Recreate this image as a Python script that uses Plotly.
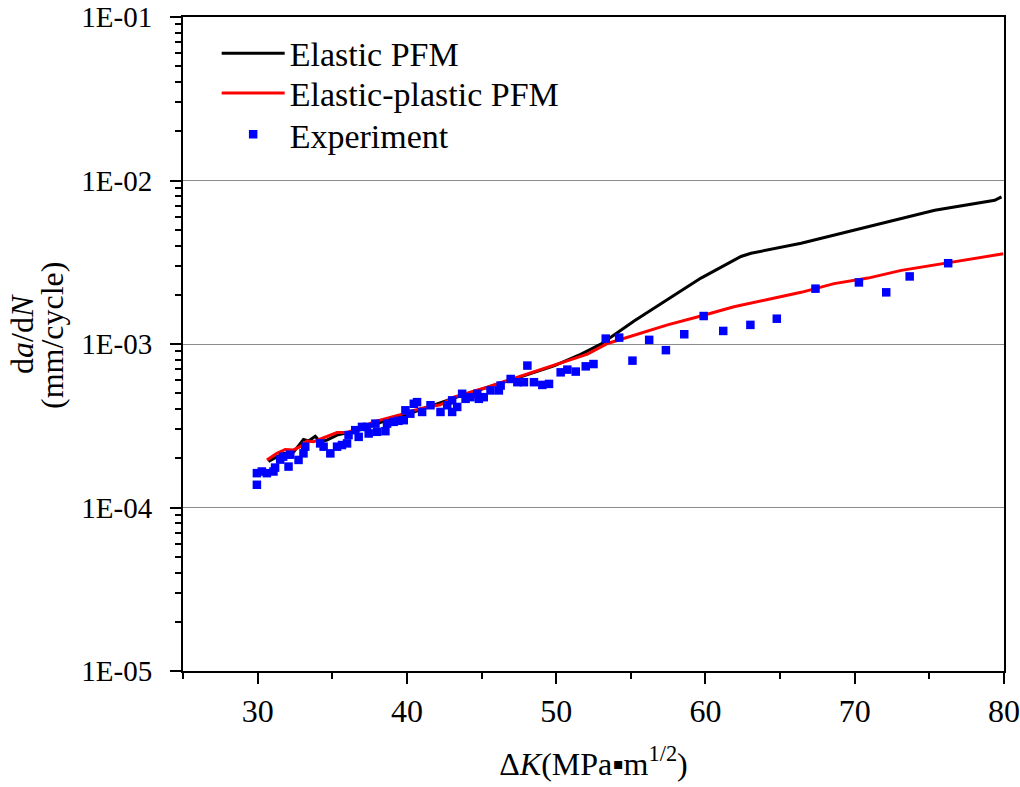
import plotly.graph_objects as go

# Experiment data
exp_dk = [29.95, 29.95, 30.28, 30.62, 31.06, 31.17, 31.51, 31.71, 32.07, 32.18,
          32.74, 33.07, 33.19, 34.19, 34.42, 34.87, 35.32, 35.65, 35.99, 36.09,
          36.54, 36.77, 36.99, 37.33, 37.44, 37.89, 38.00, 38.56, 38.67, 39.11,
          39.43, 39.79, 39.90, 40.23, 40.46, 40.68, 41.02, 41.58, 42.25, 42.70,
          43.03, 43.03, 43.37, 43.70, 43.93, 44.26, 44.71, 44.82, 45.15, 45.60,
          46.16, 46.28, 46.95, 47.40, 47.84, 48.07, 48.51, 49.07, 49.52, 50.30,
          50.75, 51.31, 51.98, 52.50, 53.32, 54.22, 55.11, 56.23, 57.35, 58.58,
          59.88, 61.19, 63.01, 64.78, 67.37, 70.28, 72.11, 73.68, 76.26]
exp_rate = [1.377e-4, 1.622e-4, 1.660e-4, 1.622e-4, 1.660e-4, 1.754e-4, 1.963e-4, 2.047e-4, 1.779e-4, 2.104e-4,
            1.954e-4, 2.143e-4, 2.355e-4, 2.466e-4, 2.355e-4, 2.143e-4, 2.355e-4, 2.410e-4, 2.466e-4, 2.773e-4,
            2.972e-4, 2.704e-4, 3.112e-4, 3.112e-4, 2.836e-4, 3.259e-4, 2.904e-4, 2.930e-4, 3.259e-4, 3.340e-4,
            3.388e-4, 3.420e-4, 3.930e-4, 3.750e-4, 4.310e-4, 4.410e-4, 3.840e-4, 4.220e-4, 3.840e-4, 4.220e-4,
            3.840e-4, 4.520e-4, 4.120e-4, 4.960e-4, 4.620e-4, 4.730e-4, 4.960e-4, 4.620e-4, 4.730e-4, 5.200e-4,
            5.200e-4, 5.570e-4, 6.110e-4, 5.840e-4, 5.840e-4, 7.380e-4, 5.840e-4, 5.620e-4, 5.700e-4, 6.710e-4,
            6.970e-4, 6.780e-4, 7.300e-4, 7.540e-4, 1.079e-3, 1.094e-3, 7.910e-4, 1.060e-3, 9.170e-4, 1.147e-3,
            1.483e-3, 1.202e-3, 1.309e-3, 1.428e-3, 2.180e-3, 2.380e-3, 2.070e-3, 2.590e-3, 3.120e-3]

# Elastic PFM
el_dk = [30.72, 31.29, 31.73, 32.38, 33.07, 33.41, 33.86, 34.19, 34.64, 35.32,
         36.88, 38.67, 40.46, 43.14, 45.38, 47.62, 49.85, 51.64, 52.99, 55.22,
         57.46, 59.70, 62.38, 63.05, 66.41, 70.89, 75.36, 79.38, 79.83]
el_rate = [1.91e-4, 2.047e-4, 2.143e-4, 2.165e-4, 2.61e-4, 2.55e-4, 2.73e-4, 2.525e-4, 2.58e-4, 2.77e-4,
           2.985e-4, 3.43e-4, 3.84e-4, 4.67e-4, 5.40e-4, 6.30e-4, 7.35e-4, 8.63e-4, 9.97e-4, 1.383e-3,
           1.87e-3, 2.53e-3, 3.43e-3, 3.59e-3, 4.13e-3, 5.22e-3, 6.58e-3, 7.57e-3, 7.94e-3]

# Elastic-plastic PFM
ep_dk = [30.62, 31.29, 31.85, 32.40, 32.85, 33.30, 33.75, 34.31, 35.32, 35.99,
         36.88, 37.77, 38.67, 39.56, 40.46, 41.36, 42.25, 43.14, 45.38, 47.62,
         49.85, 52.09, 53.44, 55.20, 57.46, 59.70, 61.91, 64.17, 66.41, 68.62,
         70.89, 73.12, 75.36, 77.60, 79.95]
ep_rate = [1.954e-4, 2.143e-4, 2.265e-4, 2.249e-4, 2.355e-4, 2.55e-4, 2.525e-4, 2.643e-4, 2.875e-4, 2.875e-4,
           3.07e-4, 3.34e-4, 3.50e-4, 3.70e-4, 3.93e-4, 4.12e-4, 4.25e-4, 4.73e-4, 5.44e-4, 6.35e-4,
           7.38e-4, 8.67e-4, 1.007e-3, 1.13e-3, 1.309e-3, 1.483e-3, 1.69e-3, 1.87e-3, 2.07e-3, 2.34e-3,
           2.53e-3, 2.82e-3, 3.05e-3, 3.27e-3, 3.56e-3]

y_tickvals = [1e-5, 1e-4, 1e-3, 1e-2, 1e-1]
y_ticktext = ["1E-05", "1E-04", "1E-03", "1E-02", "1E-01"]
y_minor = [k * 10.0 ** e for e in range(-5, -1) for k in range(2, 10)]
x_tickvals = [30, 40, 50, 60, 70, 80]
x_minor = [25, 35, 45, 55, 65, 75]

FONT = "Liberation Serif, Times New Roman, serif"

fig = go.Figure()
fig.add_trace(go.Scatter(x=el_dk, y=el_rate, mode="lines", name="Elastic PFM",
                         line=dict(color="black", width=3), legend="legend"))
fig.add_trace(go.Scatter(x=ep_dk, y=ep_rate, mode="lines", name="Elastic-plastic PFM",
                         line=dict(color="#FF0000", width=3), legend="legend2"))
fig.add_trace(go.Scatter(x=exp_dk, y=exp_rate, mode="markers", name="Experiment",
                         marker=dict(symbol="square", size=8.5, color="#0000FF", line=dict(width=0)),
                         legend="legend3"))

leg_common = dict(x=0.041, xanchor="left", yanchor="middle",
                  bgcolor="rgba(0,0,0,0)", font=dict(family=FONT, size=34),
                  itemwidth=63)

fig.update_layout(
    width=1020, height=787,
    margin=dict(l=183, r=16, t=17, b=116),
    paper_bgcolor="white", plot_bgcolor="white",
    font=dict(family=FONT, size=32, color="black"),
    showlegend=True,
    legend=dict(y=0.944, **leg_common),
    legend2=dict(y=0.883, **leg_common),
    legend3=dict(y=0.820, **leg_common),
    xaxis=dict(range=[25, 80], tickmode="array", tickvals=x_tickvals,
               ticks="outside", ticklen=11, tickwidth=2, tickcolor="black",
               showline=True, linecolor="black", linewidth=2, mirror=True,
               showgrid=False, zeroline=False, ticklabelstandoff=0,
               automargin=False, ticklabeloverflow="allow",
               tickfont=dict(family=FONT, size=32),
               minor=dict(tickmode="array", tickvals=x_minor, ticks="outside",
                          ticklen=6, tickwidth=2, tickcolor="black", showgrid=False),
               title=dict(text="Δ<i>K</i>(MPa▪m<sup>1/2</sup>)", standoff=24,
                          font=dict(family=FONT, size=32))),
    yaxis=dict(type="log", range=[-5, -1], tickmode="array",
               tickvals=y_tickvals, ticktext=y_ticktext,
               ticks="outside", ticklen=11, tickwidth=2, tickcolor="black",
               showline=True, linecolor="black", linewidth=2, mirror=True,
               showgrid=True, gridcolor="#8c8c8c", gridwidth=1.4, zeroline=False,
               ticklabelstandoff=12, automargin=False, ticklabeloverflow="allow",
               tickfont=dict(family=FONT, size=29),
               minor=dict(tickmode="array", tickvals=y_minor, ticks="outside",
                          ticklen=6, tickwidth=2, tickcolor="black", showgrid=False)),
    annotations=[
        dict(text="d<i>a</i>/d<i>N</i>", xref="paper", yref="paper", x=0, y=0.5,
             xanchor="center", yanchor="middle", xshift=-161, yshift=10,
             textangle=-90, showarrow=False, font=dict(family=FONT, size=32)),
        dict(text="(mm/cycle)", xref="paper", yref="paper", x=0, y=0.5,
             xanchor="center", yanchor="middle", xshift=-131, yshift=8,
             textangle=-90, showarrow=False, font=dict(family=FONT, size=32)),
    ],
)

fig.write_html("out.html")
